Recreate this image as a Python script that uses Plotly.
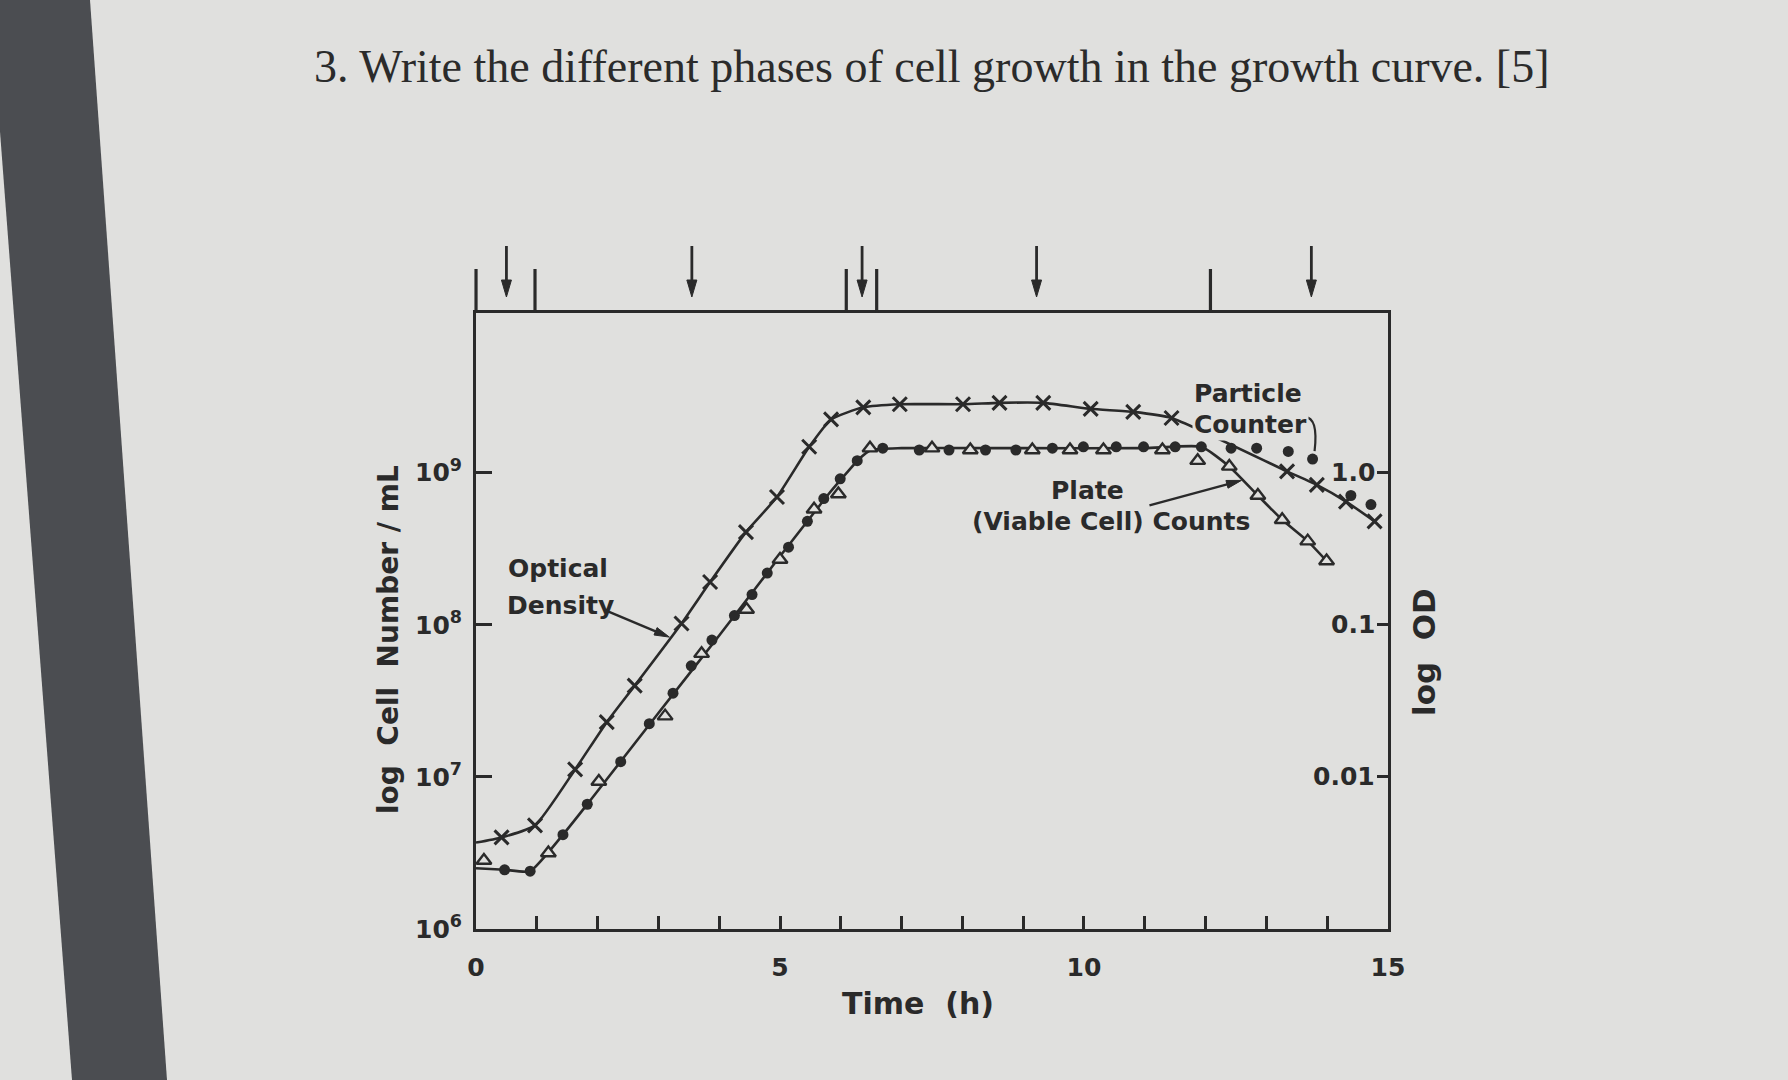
import math
import plotly.graph_objects as go

# ---------------- data ----------------
# Optical density (x markers), right axis, OD units
od_time = [0, 0.42, 0.97, 1.63, 2.15, 2.61, 3.38, 3.85, 4.44, 4.95, 5.48, 5.84,
           6.37, 6.97, 8.01, 8.61, 9.33, 10.11, 10.81, 11.44, 13.34, 13.83, 14.31, 14.78]
od_value = [0.0037, 0.0040, 0.0048, 0.0112, 0.0229, 0.0398, 0.102, 0.191, 0.407, 0.692,
            1.48, 2.24, 2.69, 2.82, 2.82, 2.88, 2.88, 2.63, 2.51, 2.29, 1.02, 0.832, 0.646, 0.479]

# Particle counter (filled circles), cells / mL
particle_time = [0.47, 0.89, 1.43, 1.83, 2.38, 2.85, 3.24, 3.54, 3.88, 4.25, 4.54, 4.79,
                 5.14, 5.45, 5.72, 5.99, 6.27, 6.69, 7.29, 7.78, 8.38, 8.88, 9.48, 9.99,
                 10.53, 10.98, 11.50, 11.93, 12.42, 12.84, 13.36, 13.76, 14.39, 14.72]
particle_cells = [2.45e6, 2.40e6, 4.17e6, 6.61e6, 1.26e7, 2.24e7, 3.55e7, 5.37e7, 7.94e7,
                  1.15e8, 1.58e8, 2.19e8, 3.24e8, 4.79e8, 6.76e8, 9.12e8, 1.20e9, 1.45e9,
                  1.41e9, 1.41e9, 1.41e9, 1.41e9, 1.45e9, 1.48e9, 1.48e9, 1.48e9, 1.48e9,
                  1.48e9, 1.45e9, 1.45e9, 1.38e9, 1.23e9, 7.08e8, 6.17e8]

# Plate (viable cell) counts (open triangles), cells / mL
plate_time = [0.13, 1.19, 2.02, 3.11, 3.71, 4.45, 5.00, 5.56, 5.96, 6.48, 7.50, 8.13,
              9.15, 9.77, 10.32, 11.29, 11.87, 12.39, 12.86, 13.26, 13.68, 13.99]
plate_cells = [2.82e6, 3.16e6, 9.33e6, 2.51e7, 6.46e7, 1.26e8, 2.69e8, 5.75e8, 7.24e8,
               1.45e9, 1.45e9, 1.41e9, 1.41e9, 1.41e9, 1.41e9, 1.41e9, 1.20e9, 1.10e9,
               7.08e8, 4.90e8, 3.55e8, 2.63e8]

# Curve drawn through the cell-count points
count_curve_time = [0, 0.47, 0.89, 1.43, 1.83, 3.0, 4.0, 5.0, 5.45, 5.8, 6.1, 6.3, 6.5,
                    7.0, 9.0, 11.0, 11.93, 12.39, 12.86, 13.26, 13.68, 13.99]
count_curve_cells = [2.51e6, 2.45e6, 2.40e6, 4.17e6, 6.61e6, 2.63e7, 8.51e7, 2.82e8, 4.79e8,
                     7.24e8, 1.00e9, 1.23e9, 1.41e9, 1.45e9, 1.45e9, 1.45e9, 1.48e9, 1.10e9,
                     7.08e8, 4.90e8, 3.55e8, 2.63e8]

# Phase markers above the plot (h)
phase_bars = [0.0, 0.97, 6.09, 6.59, 12.08]
phase_arrows = [0.50, 3.55, 6.35, 9.22, 13.74]

# Points the label pointers aim at (time h, value)
od_pointer = (3.18, 0.083)          # on the optical density curve (OD)
plate_pointer = (12.59, 8.9e8)      # on the plate-count curve (cells/mL)
counter_pointer = (13.76, 1.23e9)   # particle counter point (cells/mL)

# Axis ticks
x_tick_vals = [0, 5, 10, 15]
x_tick_text = ["0", "5", "10", "15"]
x_minor_step = 1
cell_tick_vals = [1e6, 1e7, 1e8, 1e9]
cell_tick_text = ["10<sup>6</sup>", "10<sup>7</sup>", "10<sup>8</sup>", "10<sup>9</sup>"]
od_tick_vals = [0.01, 0.1, 1.0]
od_tick_text = ["0.01", "0.1", "1.0"]

title_text = "3. Write the different phases of cell growth in the growth curve. [5]"

# ---------------- layout geometry / styling ----------------
W, H = 1788, 1080
L, R, T, B = 476, 1388, 313, 929
X_RANGE = [-0.0005, 15.0005]
Y_RANGE = [6, 10.05]          # log10 cells/mL
Y2_RANGE = [-3, 1.05]         # log10 OD
ink = "#2a2a2a"
bg = "#e0e0de"
sans = "DejaVu Sans"
lab_font = dict(family=sans, size=25, color=ink, weight="bold")
tick_font = dict(family=sans, size=25, color=ink, weight="bold")


def pxx(px):
    return (px - L) / (R - L)


def pxy(py):
    return (B - py) / (B - T)


def t_px(t):
    return L + (t - X_RANGE[0]) / (X_RANGE[1] - X_RANGE[0]) * (R - L)


def cell_py(v):
    return B - (math.log10(v) - Y_RANGE[0]) / (Y_RANGE[1] - Y_RANGE[0]) * (B - T)


def od_py(v):
    return B - (math.log10(v) - Y2_RANGE[0]) / (Y2_RANGE[1] - Y2_RANGE[0]) * (B - T)


shapes = []


def arrow(hx, hy, tx, ty, hl=14, hw=4.5, width=2.4):
    """Arrow in pixel coordinates, head at (hx, hy), tail at (tx, ty)."""
    d = math.hypot(hx - tx, hy - ty)
    ux, uy = (hx - tx) / d, (hy - ty) / d
    bx, by = hx - ux * hl, hy - uy * hl
    shapes.append(dict(type="line", xref="paper", yref="paper",
                       x0=pxx(tx), y0=pxy(ty), x1=pxx(bx + ux * 2), y1=pxy(by + uy * 2),
                       line=dict(color=ink, width=width)))
    pts = [(hx, hy), (bx - uy * hw, by + ux * hw), (bx + uy * hw, by - ux * hw)]
    shapes.append(dict(type="path", xref="paper", yref="paper",
                       path="M " + " L ".join(f"{pxx(a):.5f},{pxy(b):.5f}" for a, b in pts) + " Z",
                       fillcolor=ink, line=dict(color=ink, width=1)))


fig = go.Figure()

fig.add_trace(go.Scatter(
    x=count_curve_time, y=count_curve_cells, mode="lines",
    line=dict(color=ink, width=2.6, shape="spline", smoothing=0.5),
    hoverinfo="skip", showlegend=False))
fig.add_trace(go.Scatter(
    x=particle_time, y=particle_cells, mode="markers",
    marker=dict(symbol="circle", size=11, color=ink),
    showlegend=False))
fig.add_trace(go.Scatter(
    x=plate_time, y=plate_cells, mode="markers",
    marker=dict(symbol="triangle-up", size=13, color=bg, line=dict(color=ink, width=2.4)),
    showlegend=False))
fig.add_trace(go.Scatter(
    x=od_time, y=od_value, mode="lines", yaxis="y2",
    line=dict(color=ink, width=2.6, shape="spline", smoothing=0.5),
    hoverinfo="skip", showlegend=False))
fig.add_trace(go.Scatter(
    x=od_time[1:], y=od_value[1:], mode="markers", yaxis="y2",
    marker=dict(symbol="x-thin", size=14, line=dict(color=ink, width=3)),
    showlegend=False))

# dark strip at the left of the photo
strip = [(-10, 0), (90, 0), (167, 1080), (72, 1080)]
shapes.append(dict(type="path", xref="paper", yref="paper",
                   path="M " + " L ".join(f"{pxx(a):.5f},{pxy(b):.5f}" for a, b in strip) + " Z",
                   fillcolor="#4b4d51", line=dict(width=0), layer="below"))

# phase boundary bars and phase arrows above the plot
for t in phase_bars:
    shapes.append(dict(type="line", xref="paper", yref="paper", x0=pxx(t_px(t)), x1=pxx(t_px(t)),
                       y0=1.0, y1=pxy(269), line=dict(color=ink, width=3.2)))
for t in phase_arrows:
    arrow(t_px(t), 297, t_px(t), 246, hl=17, hw=5, width=2.8)

# label pointers
hx, hy = t_px(od_pointer[0]), od_py(od_pointer[1])
arrow(hx, hy, hx - 62, hy - 26, hl=15, hw=4)
hx, hy = t_px(plate_pointer[0]), cell_py(plate_pointer[1])
arrow(hx, hy, hx - 92, hy + 25, hl=15, hw=4)
cx, cy = t_px(counter_pointer[0]), cell_py(counter_pointer[1])
shapes.append(dict(type="path", xref="paper", yref="paper",
                   path=(f"M {pxx(cx - 8):.5f},{pxy(cy - 42):.5f} "
                         f"Q {pxx(cx + 6):.5f},{pxy(cy - 42):.5f} {pxx(cx + 2):.5f},{pxy(cy - 8):.5f}"),
                   line=dict(color=ink, width=2.2)))

annotations = [
    dict(x=0.50, y=8.37, xref="x", yref="y", text="Optical", showarrow=False,
         xanchor="left", yanchor="middle", font=lab_font),
    dict(x=0.48, y=8.13, xref="x", yref="y", text="Density", showarrow=False,
         xanchor="left", yanchor="middle", font=lab_font),
    dict(x=11.77, y=9.52, xref="x", yref="y", text="Particle", showarrow=False,
         xanchor="left", yanchor="middle", font=lab_font),
    dict(x=11.77, y=9.32, xref="x", yref="y", text="Counter", showarrow=False,
         xanchor="left", yanchor="middle", font=lab_font, bgcolor=bg, borderpad=1),
    dict(x=10.05, y=8.88, xref="x", yref="y", text="Plate", showarrow=False,
         xanchor="center", yanchor="middle", font=lab_font),
    dict(x=10.45, y=8.68, xref="x", yref="y", text="(Viable Cell) Counts", showarrow=False,
         xanchor="center", yanchor="middle", font=lab_font),
    # axis titles
    dict(x=pxx(388), y=pxy(640), xref="paper", yref="paper", text="log  Cell  Number / mL",
         textangle=-90, showarrow=False, xanchor="center", yanchor="middle",
         font=dict(family=sans, size=28, color=ink, weight="bold")),
    dict(x=pxx(1424), y=pxy(652), xref="paper", yref="paper", text="log  OD",
         textangle=-90, showarrow=False, xanchor="center", yanchor="middle",
         font=dict(family=sans, size=31, color=ink, weight="bold")),
    dict(x=pxx(918), y=pxy(1003), xref="paper", yref="paper", text="Time  (h)",
         showarrow=False, xanchor="center", yanchor="middle",
         font=dict(family=sans, size=30, color=ink, weight="bold")),
]

# right-axis (OD) tick labels, drawn inside the frame next to the inside ticks
for v, s in zip(od_tick_vals, od_tick_text):
    annotations.append(dict(x=pxx(R - 11), y=pxy(od_py(v)), xref="paper", yref="paper",
                            text=s, showarrow=False, xanchor="right", yanchor="middle",
                            font=tick_font))

fig.update_layout(
    width=W, height=H,
    margin=dict(l=L, r=W - R, t=T, b=H - B, autoexpand=False),
    paper_bgcolor=bg, plot_bgcolor=bg, showlegend=False,
    title=dict(text=title_text, xref="container", yref="container",
               x=314 / W, xanchor="left", y=1 - 66 / H, yanchor="middle",
               font=dict(family="Liberation Serif", size=46, color="#2b2b2b")),
    xaxis=dict(range=X_RANGE, tickmode="array", tickvals=x_tick_vals, ticktext=x_tick_text,
               ticks="inside", ticklen=13, tickwidth=2.6, tickcolor=ink,
               minor=dict(tick0=0, dtick=x_minor_step, ticks="inside", ticklen=13,
                          tickwidth=2.6, tickcolor=ink, showgrid=False),
               showline=True, linewidth=3, linecolor=ink, mirror=True,
               showgrid=False, zeroline=False, tickfont=tick_font, ticklabelstandoff=14,
               ticklabeloverflow="allow"),
    yaxis=dict(type="log", range=Y_RANGE, tickmode="array", tickvals=cell_tick_vals,
               ticktext=cell_tick_text, ticks="inside", ticklen=16, tickwidth=2.6,
               tickcolor=ink, showline=True, linewidth=3, linecolor=ink,
               showgrid=False, zeroline=False, tickfont=tick_font, ticklabelstandoff=6),
    yaxis2=dict(type="log", range=Y2_RANGE, overlaying="y", side="right",
                tickmode="array", tickvals=od_tick_vals, showticklabels=False,
                ticks="inside", ticklen=11, tickwidth=2.6, tickcolor=ink,
                showline=True, linewidth=3, linecolor=ink,
                showgrid=False, zeroline=False),
    shapes=shapes, annotations=annotations,
)

fig.write_html("out.html")
